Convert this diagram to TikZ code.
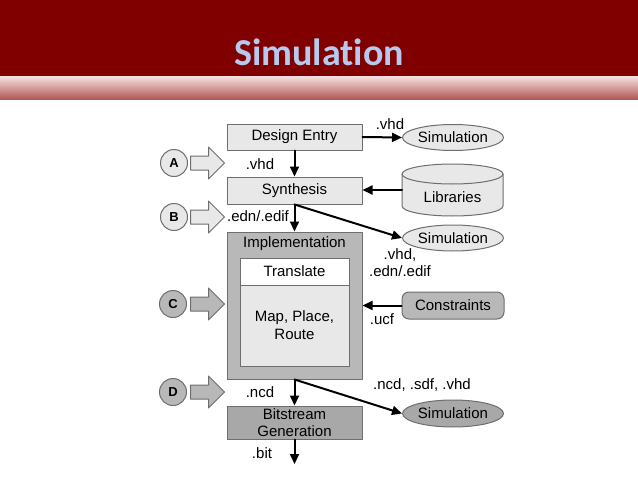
\documentclass[tikz,border=0pt]{standalone}
\usepackage{fontspec}
\setmainfont{Liberation Sans}
\newfontfamily\titlefont[Ligatures=NoCommon]{Carlito}
\usepackage{xcolor}
\usepackage{tikz}
\usetikzlibrary{arrows.meta,shapes.geometric,shapes.arrows}

\definecolor{bordo}{RGB}{128,0,0}
\definecolor{titolo}{RGB}{182,202,240}
\definecolor{grigiochiaro}{RGB}{232,232,232}
\definecolor{grigiomedio}{RGB}{184,184,184}
\definecolor{grigioscuro}{RGB}{168,168,168}
\definecolor{bordino}{RGB}{110,110,110}

\begin{document}
\begin{tikzpicture}[
    x=1pt,
    y=-1pt,
    line cap=round,
    line join=round,
    font=\fontsize{15}{17}\selectfont,
    blocco/.style={draw=bordino,line width=1pt,minimum width=135pt,inner sep=0pt,align=center},
    ovale/.style={ellipse,draw=bordino,line width=1pt,minimum width=101pt,minimum height=26pt,inner sep=0pt},
    freccia/.style={line width=2pt,-{Triangle[length=10pt,width=9pt]}},
    etichetta/.style={inner sep=0pt,align=center},
    tondo/.style={circle,draw=bordino,line width=1pt,minimum size=27pt,inner sep=0pt,font=\fontsize{13}{15}\selectfont\bfseries},
    blockarrow/.style={single arrow,draw=bordino,line width=1pt,minimum height=34pt,
        single arrow head extend=9pt,single arrow head indent=0pt,inner sep=0pt}
]

\useasboundingbox (0,0) rectangle (638,479);

% Intestazione
\fill[bordo] (0,0) rectangle (638,76);
\shade[top color={rgb,255:red,248;green,226;blue,226},bottom color={rgb,255:red,178;green,88;blue,88}]
    (0,76) rectangle (638,99);
\node[text=titolo,font=\titlefont\fontsize{38}{40}\selectfont\bfseries] (titolo) at (319,52) {Simulation};

% Flusso centrale
\node[blocco,fill=grigiochiaro,minimum height=26pt] (de) at (294.5,137) {Design Entry};
\node[blocco,fill=grigiochiaro,minimum height=27pt] (syn) at (294.5,190.5) {Synthesis};
\node[blocco,fill=grigiomedio,minimum height=147pt] (impl) at (294.5,305.5) {};
\node[etichetta] (impltxt) at (294.5,244) {Implementation};
\node[blocco,fill=white,minimum width=109pt,minimum height=27pt] (trans) at (294.5,271.5) {Translate};
\node[blocco,fill=grigiochiaro,minimum width=109pt,minimum height=81pt] (mpr) at (294.5,325.5)
    {Map, Place,\\[1pt] Route};
\node[blocco,fill=grigioscuro,minimum height=33pt] (bit) at (294.5,422.5)
    {Bitstream\\ Generation};
\coordinate (fine) at (294.5,464);

% Blocchi a destra
\node[ovale,fill=grigiochiaro] (sim1) at (453,137.5) {Simulation};
\draw[bordino,line width=1pt,fill=grigiochiaro] (402,174) -- (402,206)
    arc[start angle=180,end angle=0,x radius=50.5,y radius=10] -- (503,174);
\draw[bordino,line width=1pt,fill=grigiochiaro] (452.5,174) ellipse[x radius=50.5,y radius=10];
\node[etichetta] (lib) at (452.5,197) {Libraries};
\coordinate (libw) at (402,190);
\node[ovale,fill=grigiochiaro] (sim2) at (453,238) {Simulation};
\node[blocco,fill=grigiomedio,rounded corners=7pt,minimum width=102pt,minimum height=27pt] (cons) at (453,305.5) {Constraints};
\node[ovale,fill=grigioscuro,minimum height=27pt] (sim3) at (453,413.5) {Simulation};

% Frecce
\draw[freccia] (de.south) -- (syn.north);
\draw[freccia] (syn.south) -- (impl.north);
\draw[freccia] (impl.south) -- (bit.north);
\draw[freccia] (bit.south) -- (fine);
\draw[freccia] (de.east) -- (sim1.west);
\draw[freccia] (libw) -- (syn.east |- libw);
\draw[freccia] (syn.south) -- (sim2.west);
\draw[freccia] (cons.west) -- (impl.east |- cons.west);
\draw[freccia] (impl.south) -- (sim3.west);

% Etichette dei file
\node[etichetta] (l1) at (260,164) {.vhd};
\node[etichetta] (l2) at (258,216) {.edn/.edif};
\node[etichetta] (l3) at (390,124) {.vhd};
\node[etichetta] (l4) at (400,263) {.vhd,\\ .edn/.edif};
\node[etichetta] (l5) at (382,319) {.ucf};
\node[etichetta] (l6) at (422,385) {.ncd, .sdf, .vhd};
\node[etichetta] (l7) at (260,392) {.ncd};
\node[etichetta] (l8) at (262,453) {.bit};

% Marcatori a sinistra
\node[blockarrow,fill=grigiochiaro] (fa) at (204,163) {\rule{0pt}{13pt}};
\node[tondo,fill=grigiochiaro] (ca) at (174,163) {A};
\node[blockarrow,fill=grigiochiaro] (fb) at (204,217) {\rule{0pt}{13pt}};
\node[tondo,fill=grigiochiaro] (cb) at (174,217) {B};
\node[blockarrow,fill=grigiomedio] (fc) at (204,304) {\rule{0pt}{13pt}};
\node[tondo,fill=grigiomedio] (cc) at (173,304) {C};
\node[blockarrow,fill=grigiomedio] (fd) at (204,392) {\rule{0pt}{13pt}};
\node[tondo,fill=grigiomedio] (cd) at (173,392) {D};

\end{tikzpicture}
\end{document}
